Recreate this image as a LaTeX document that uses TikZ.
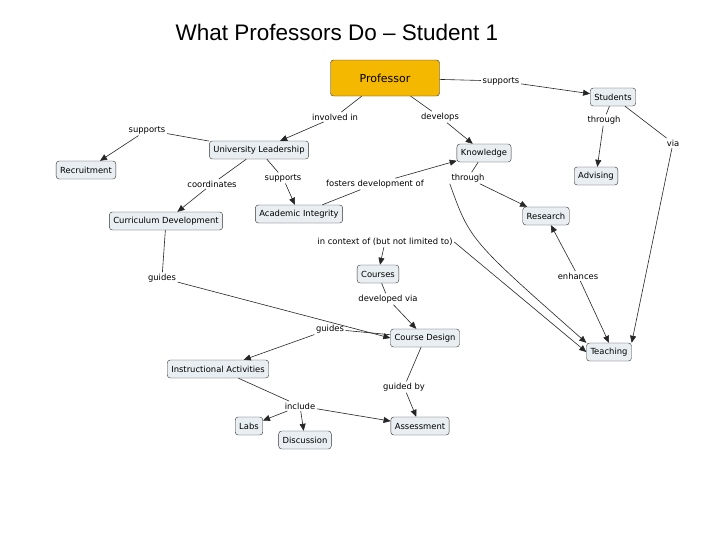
\documentclass[tikz,border=0pt]{standalone}
\usepackage{fontspec}
\setmainfont{DejaVu Sans}
\newfontfamily\titlefont{Liberation Sans}
\usetikzlibrary{arrows.meta}
\definecolor{conceptfill}{RGB}{232,238,242}
\definecolor{profgold}{RGB}{245,184,0}
\begin{document}
\begin{tikzpicture}[x=1pt,y=-1pt,
  concept/.style={draw=black!80,rounded corners=3pt,fill=conceptfill,font=\fontsize{8.4}{10}\selectfont,inner xsep=4pt,minimum height=18pt},
  lbl/.style={font=\fontsize{8.4}{10}\selectfont,inner sep=1.5pt,fill=white},
  ln/.style={draw=black!85,line width=0.6pt},
  ar/.style={ln,-{Triangle[length=7pt,width=6pt]}}]
\useasboundingbox (0,0) rectangle (728,546);
\fill[white] (0,0) rectangle (728,546);
\node[font=\titlefont\fontsize{22.5}{26}\selectfont,anchor=west] (title) at (172,32) {What Professors Do – Student 1};
% concepts
\node[concept,fill=profgold,minimum width=109pt,minimum height=36pt,font=\fontsize{11}{13}\selectfont] (prof) at (385,78) {Professor};
\node[concept] (stud) at (613,97) {Students};
\node[concept] (ul) at (259,150) {University Leadership};
\node[concept] (know) at (484,153) {Knowledge};
\node[concept] (rec) at (86,170) {Recruitment};
\node[concept] (adv) at (596,176) {Advising};
\node[concept] (cd) at (166,221) {Curriculum Development};
\node[concept] (ai) at (299,214) {Academic Integrity};
\node[concept] (res) at (546,216) {Research};
\node[concept] (crs) at (378,274) {Courses};
\node[concept] (cdes) at (425,338) {Course Design};
\node[concept] (tea) at (609,352) {Teaching};
\node[concept] (ia) at (218,369) {Instructional Activities};
\node[concept] (ass) at (420,426) {Assessment};
\node[concept] (labs) at (249,426) {Labs};
\node[concept] (disc) at (305,440) {Discussion};
% labels
\node[lbl] (l1) at (501,81) {supports};
\node[lbl] (l2) at (335,117) {involved in};
\node[lbl] (l3) at (440,117) {develops};
\node[lbl] (l4) at (147,130) {supports};
\node[lbl] (l5) at (604,120) {through};
\node[lbl] (l6) at (673,143) {via};
\node[lbl] (l7) at (212,184) {coordinates};
\node[lbl] (l8) at (283,178) {supports};
\node[lbl] (l9) at (375,184) {fosters development of};
\node[lbl] (l10) at (468,178) {through};
\node[lbl] (l11) at (385,242) {in context of (but not limited to)};
\node[lbl] (l12) at (162,278) {guides};
\node[lbl] (l13) at (578,276) {enhances};
\node[lbl] (l14) at (388,299) {developed via};
\node[lbl] (l15) at (330,329) {guides};
\node[lbl] (l16) at (404,387) {guided by};
\node[lbl] (l17) at (300,406) {include};
% connectors
\draw[ln] (prof) -- (l1); \draw[ar] (l1) -- (stud);
\draw[ln] (prof) -- (l2); \draw[ar] (l2) -- (ul);
\draw[ln] (prof) -- (l3); \draw[ar] (l3) -- (know);
\draw[ln] (ul) -- (l4); \draw[ar] (l4) -- (rec);
\draw[ln] (stud) -- (l5); \draw[ar] (l5) -- (adv);
\draw[ln] (stud) -- (l6); \draw[ar] (l6) -- (tea.north east);
\draw[ln] (ul) -- (l7); \draw[ar] (l7) -- (cd);
\draw[ln] (ul) -- (l8); \draw[ar] (l8) -- (ai);
\draw[ln] (ai) -- (l9); \draw[ar] (l9) -- (know);
\draw[ln] (know) -- (l10); \draw[ar] (l10) -- (res);
\draw[ar] (l10.south west) .. controls (470,240) .. (tea.north west);
\draw[ar] (l11) -- (crs);
\draw[ar] (l11.east) -- (tea.west);
\draw[ln] (cd) -- (l12); \draw[ar] (l12) -- (cdes.west);
\draw[ar] (l13) -- (res);
\draw[ar] (l13) -- (tea.north);
\draw[ln] (crs) -- (l14); \draw[ar] (l14) -- (cdes);
\draw[ln] (cdes) -- (l15); \draw[ar] (l15) -- (ia);
\draw[ln] (cdes) -- (l16); \draw[ar] (l16) -- (ass);
\draw[ln] (ia) -- (l17); \draw[ar] (l17) -- (labs);
\draw[ar] (l17) -- (disc); \draw[ar] (l17) -- (ass);
\end{tikzpicture}
\end{document}
